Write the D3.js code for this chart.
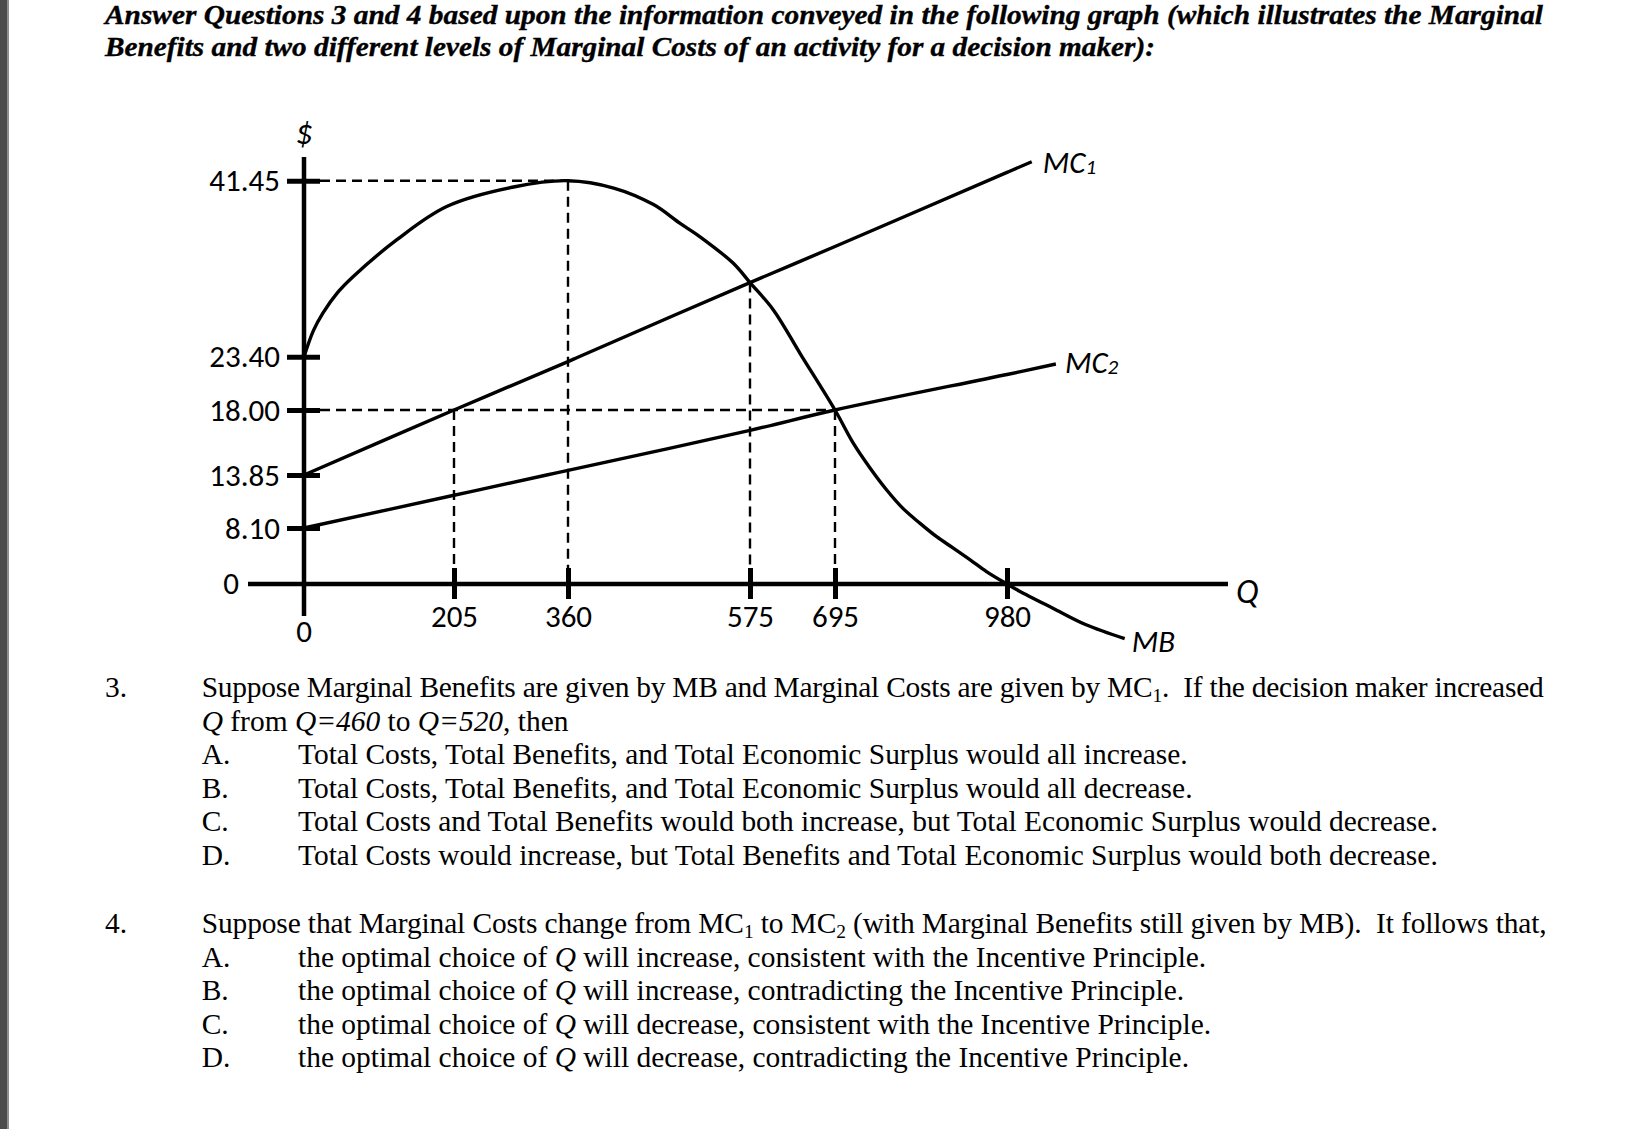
<!DOCTYPE html>
<html>
<head>
<meta charset="utf-8">
<script src="https://cdn.jsdelivr.net/npm/d3@7"></script>
<style>
  html, body { margin: 0; padding: 0; background: #fff; }
  svg { display: block; }
</style>
</head>
<body>
<div id="page"></div>
<script>
// Set globals
//
var svg_width  = 1639;
var svg_height = 1129;

var serif = '"Liberation Serif", "Times New Roman", serif';
var sans  = 'Carlito, Lato, "Open Sans", sans-serif';

// Axis ticks
//
var qTicks     = [205, 360, 575, 695, 980];
var priceTicks = [41.45, 23.40, 18.00, 13.85, 8.10];

// Curves as [Q, $]
//
var mbCurve = [
    [0, 23.40], [13, 26.1], [26, 27.9], [45, 29.9], [67, 31.6], [127, 35.4],
    [195, 38.8], [286, 40.8], [360, 41.45], [414, 40.7], [461, 39.0], [492, 37.1],
    [516, 35.7], [555, 33.0], [575, 31.0], [608, 28.2], [646, 23.7], [695, 18.0],
    [725, 15.9], [753, 14.3], [781, 12.2], [808, 10.2], [836, 8.6], [864, 6.8],
    [891, 5.2], [919, 3.5], [946, 1.8], [980, 0], [1000, -1.0], [1056, -3.5],
    [1111, -5.9], [1175, -7.9]
];
var mc1Line = [
    [0, 13.85], [205, 18.00], [360, 22.9], [373, 23.40], [575, 31.0],
    [695, 34.7], [980, 42.3], [1021, 43.4]
];
var mc2Line = [
    [0, 8.10], [205, 11.65], [331, 13.85], [360, 14.14], [575, 16.7],
    [695, 18.00], [980, 21.6], [1061, 22.66]
];

// Dashed guides: drop lines [Q, $] and level lines [$, up to Q]
//
var dropLines  = [[205, 18.00], [360, 41.45], [575, 31.0], [695, 18.00]];
var levelLines = [[41.45, 360], [18.00, 695]];

// Texts
//
var titleLines = [
    'Answer Questions 3 and 4 based upon the information conveyed in the following graph (which illustrates the Marginal',
    'Benefits and two different levels of Marginal Costs of an activity for a decision maker):'
];

var question3 = [
    ['3.', [['Suppose Marginal Benefits are given by MB and Marginal Costs are given by MC'], ['1', 'sub'], ['.  If the decision maker increased']]],
    ['',   [['Q', 'i'], [' from '], ['Q=460', 'i'], [' to '], ['Q=520', 'i'], [', then']]],
    ['A.', [['Total Costs, Total Benefits, and Total Economic Surplus would all increase.']]],
    ['B.', [['Total Costs, Total Benefits, and Total Economic Surplus would all decrease.']]],
    ['C.', [['Total Costs and Total Benefits would both increase, but Total Economic Surplus would decrease.']]],
    ['D.', [['Total Costs would increase, but Total Benefits and Total Economic Surplus would both decrease.']]]
];
var question4 = [
    ['4.', [['Suppose that Marginal Costs change from MC'], ['1', 'sub'], [' to MC'], ['2', 'sub'], [' (with Marginal Benefits still given by MB).  It follows that,']]],
    ['A.', [['the optimal choice of '], ['Q', 'i'], [' will increase, consistent with the Incentive Principle.']]],
    ['B.', [['the optimal choice of '], ['Q', 'i'], [' will increase, contradicting the Incentive Principle.']]],
    ['C.', [['the optimal choice of '], ['Q', 'i'], [' will decrease, consistent with the Incentive Principle.']]],
    ['D.', [['the optimal choice of '], ['Q', 'i'], [' will decrease, contradicting the Incentive Principle.']]]
];

// SVG canvas
//
var svg = d3.select('#page').append('svg')
    .attr('xmlns', 'http://www.w3.org/2000/svg')
    .attr('width', svg_width)
    .attr('height', svg_height)
    .attr('viewBox', `0 0 ${svg_width} ${svg_height}`);

svg.append('rect').attr('width', svg_width).attr('height', svg_height).attr('fill', '#fff');

// Page edge (viewer border on the left)
//
svg.append('rect').attr('x', 0).attr('y', 0).attr('width', 7).attr('height', svg_height).attr('fill', '#4b4b4b');
svg.append('rect').attr('x', 7).attr('y', 0).attr('width', 2).attr('height', svg_height).attr('fill', '#8e8e8e');

// Scales: the graph is schematic, so each labelled tick has its own spot
//
var x_origin = 304;
var y_origin = 584;

var xScale = d3.scaleLinear()
    .domain([0].concat(qTicks))
    .range([0, 150, 264, 446, 531, 703].map(d => x_origin + d));

var yScale = d3.scaleLinear()
    .domain([0].concat(priceTicks.slice().reverse()))
    .range([0, 56, 109, 174, 227.3, 403.3].map(d => y_origin - d));

// Dashed guides
//
var guides = svg.append('g')
    .attr('stroke', '#000')
    .attr('stroke-width', 2.4)
    .attr('stroke-dasharray', '10,6');

guides.selectAll('line.level')
    .data(levelLines)
    .join('line')
    .attr('class', 'level')
    .attr('x1', xScale(0) + 16)
    .attr('x2', d => xScale(d[1]))
    .attr('y1', d => yScale(d[0]))
    .attr('y2', d => yScale(d[0]));

guides.selectAll('line.drop')
    .data(dropLines)
    .join('line')
    .attr('class', 'drop')
    .attr('x1', d => xScale(d[0]))
    .attr('x2', d => xScale(d[0]))
    .attr('y1', d => yScale(d[1]))
    .attr('y2', yScale(0) - 16);

// Curves
//
var line = d3.line()
    .x(d => xScale(d[0]))
    .y(d => yScale(d[1]))
    .curve(d3.curveCatmullRom.alpha(0.5));

var curves = [
    { name: 'MC', sub: '1', data: mc1Line, dx: 11, dy: 11 },
    { name: 'MC', sub: '2', data: mc2Line, dx: 9,  dy: 9 },
    { name: 'MB', sub: '',  data: mbCurve, dx: 7,  dy: 13 }
];

curves.forEach(c => {
    svg.append('path')
        .attr('d', line(c.data))
        .attr('fill', 'none')
        .attr('stroke', '#000')
        .attr('stroke-width', 3.4);

    let last = c.data[c.data.length - 1];
    let label = svg.append('text')
        .attr('x', xScale(last[0]) + c.dx)
        .attr('y', yScale(last[1]) + c.dy)
        .attr('font-family', sans)
        .attr('font-style', 'italic')
        .attr('font-size', 31)
        .text(c.name);
    if (c.sub) {
        label.append('tspan')
            .attr('font-size', '0.68em')
            .attr('dy', '0.06em')
            .text(c.sub);
    }
});

// Axes lines
//
svg.append('line')
    .attr('x1', xScale(0)).attr('x2', xScale(0))
    .attr('y1', 157).attr('y2', 616)
    .attr('stroke', '#000').attr('stroke-width', 4.5);

svg.append('line')
    .attr('x1', 248).attr('x2', 1228)
    .attr('y1', yScale(0)).attr('y2', yScale(0))
    .attr('stroke', '#000').attr('stroke-width', 4.5);

// Left axis ($)
//
var yAxis = d3.axisLeft(yScale)
    .tickValues(priceTicks)
    .tickFormat(d3.format('.2f'))
    .tickSize(17)
    .tickPadding(7);

var gy = svg.append('g')
    .attr('transform', `translate(${xScale(0)},0)`)
    .call(yAxis)
    .attr('font-family', sans)
    .attr('font-size', 31);

gy.select('.domain').remove();
gy.selectAll('.tick line').attr('x1', 16).attr('stroke', '#000').attr('stroke-width', 5);
gy.selectAll('.tick text').attr('fill', '#000').attr('dy', '0.33em');

// Bottom axis (Q)
//
var xAxis = d3.axisBottom(xScale)
    .tickValues(qTicks)
    .tickSize(15)
    .tickPadding(9);

var gx = svg.append('g')
    .attr('transform', `translate(0,${yScale(0)})`)
    .call(xAxis)
    .attr('font-family', sans)
    .attr('font-size', 31);

gx.select('.domain').remove();
gx.selectAll('.tick line').attr('y1', -16).attr('stroke', '#000').attr('stroke-width', 5);
gx.selectAll('.tick text').attr('fill', '#000').attr('dy', '0.62em');

// Origin labels and axis names
//
svg.append('text')
    .attr('x', 239).attr('y', yScale(0)).attr('dy', '0.33em')
    .attr('text-anchor', 'end')
    .attr('font-family', sans).attr('font-size', 31)
    .text('0');

svg.append('text')
    .attr('x', xScale(0)).attr('y', 642)
    .attr('text-anchor', 'middle')
    .attr('font-family', sans).attr('font-size', 31)
    .text('0');

svg.append('text')
    .attr('x', xScale(0)).attr('y', 144)
    .attr('text-anchor', 'middle')
    .attr('font-family', sans).attr('font-style', 'italic').attr('font-size', 34)
    .text('$');

svg.append('text')
    .attr('x', 1236).attr('y', 603)
    .attr('font-family', sans).attr('font-style', 'italic').attr('font-size', 34)
    .text('Q');

// Title
//
var title = svg.append('g')
    .attr('font-family', serif)
    .attr('font-weight', 'bold')
    .attr('font-style', 'italic')
    .attr('font-size', 27)
    .attr('stroke', '#000')
    .attr('stroke-width', 0.35);

[[24.3, 1438], [56, 1050]].forEach((p, i) => {
    title.append('text')
        .attr('x', 105).attr('y', p[0])
        .attr('textLength', p[1])
        .attr('lengthAdjust', 'spacingAndGlyphs')
        .text(titleLines[i]);
});

// Questions
//
var body = svg.append('g')
    .attr('font-family', serif)
    .attr('font-size', 29);

function addRich(x, y, segs) {
    let t = body.append('text')
        .attr('x', x).attr('y', y)
        .attr('xml:space', 'preserve');
    let shifted = false;
    segs.forEach(s => {
        let ts = t.append('tspan').text(s[0]);
        if (s[1] === 'i') { ts.attr('font-style', 'italic'); }
        if (s[1] === 'sub') {
            ts.attr('font-size', '0.66em').attr('dy', '0.25em');
            shifted = true;
        } else if (shifted) {
            ts.attr('dy', '-0.165em');
            shifted = false;
        }
    });
    return t;
}

function addQuestion(rows, y0) {
    let made = [];
    rows.forEach((r, i) => {
        let y = y0 + i * 33.5;
        let isStem = (i === 0 || r[0] === '');
        if (i === 0) {
            body.append('text').attr('x', 105).attr('y', y).text(r[0]);
        } else if (r[0] !== '') {
            body.append('text').attr('x', 201.7).attr('y', y).text(r[0]);
        }
        made.push(addRich(isStem ? 201.7 : 298, y, r[1]));
    });
    return made;
}

var rows3 = addQuestion(question3, 697);
var rows4 = addQuestion(question4, 933);

// Fit body size on option C of question 3, then pin the two long stems
//
var len = rows3[4].node().getComputedTextLength();
if (len > 0) {
    body.attr('font-size', 29 * 1140 / len);
}
rows3[0].attr('textLength', 1342).attr('lengthAdjust', 'spacing');
rows4[0].attr('textLength', 1345).attr('lengthAdjust', 'spacing');
</script>
</body>
</html>
